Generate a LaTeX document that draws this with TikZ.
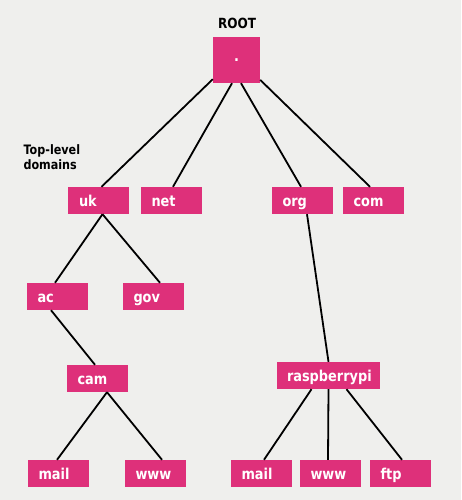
\documentclass[tikz,border=0pt]{standalone}
\usepackage{fontspec}
\setmainfont{DejaVu Sans}[FakeStretch=0.86]
\definecolor{dnspink}{RGB}{222,48,122}
\definecolor{paper}{RGB}{239,239,237}
\begin{document}
\begin{tikzpicture}[x=1pt,y=-1pt,
    dnsbox/.style={fill=dnspink, text=white, font=\bfseries\fontsize{15}{18}\selectfont,
      text width=39pt, inner xsep=11pt, inner ysep=0pt, minimum height=27pt,
      text height=14pt, text depth=3pt, align=left},
    link/.style={line width=1.8pt},
    caption/.style={font=\bfseries\fontsize{13}{15}\selectfont}]
 	%background
	\fill[paper] (0,0) rectangle (461,500);
	\useasboundingbox (0,0) rectangle (461,500);
	%root
	\node[fill=dnspink, text=white, font=\bfseries\fontsize{15}{18}\selectfont,
	  minimum width=47pt, minimum height=46pt, inner sep=0pt] (root) at (236.5,60) {.};
	\node[caption, font=\bfseries\fontsize{14}{16}\selectfont] (rootlabel) at (237,23) {ROOT};
	\node[caption, anchor=west, align=left] (tldlabel) at (20,157) {Top-level\\domains};
	%top-level domains
	\node[dnsbox] (uk) at (98.5,200.5) {uk};
	\node[dnsbox] (net) at (171,200.5) {net};
	\node[dnsbox] (org) at (302,200.5) {org};
	\node[dnsbox] (com) at (373,200.5) {com};
	%second level
	\node[dnsbox] (ac) at (57,296.5) {ac};
	\node[dnsbox] (gov) at (153,296.5) {gov};
	\node[dnsbox] (cam) at (97,378.5) {cam};
	\node[dnsbox, text width=83pt, inner xsep=10pt] (rpi) at (328.5,375.5) {raspberrypi};
	%hosts
	\node[dnsbox] (mailuk) at (58,473.5) {mail};
	\node[dnsbox] (wwwuk) at (155,473.5) {www};
	\node[dnsbox] (mailrpi) at (261,473.5) {mail};
	\node[dnsbox] (wwwrpi) at (330,473.5) {www};
	\node[dnsbox] (ftp) at (400,473.5) {ftp};
	%links
	\draw[link] (root.-141) -- ([xshift=3pt]uk.north);
	\draw[link] (root.-101) -- ([xshift=2pt]net.north);
	\draw[link] (root.-79) -- ([xshift=-1pt]org.north);
	\draw[link] (root.-40) -- ([xshift=-3pt]com.north);
	\draw[link] ([xshift=4pt]uk.south) -- ([xshift=-2pt]ac.north);
	\draw[link] ([xshift=4pt]uk.south) -- ([xshift=7pt]gov.north);
	\draw[link] ([xshift=-6pt]ac.south) -- ([xshift=-2pt]cam.north);
	\draw[link] ([xshift=10pt]cam.south) -- ([xshift=-1pt]mailuk.north);
	\draw[link] ([xshift=10pt]cam.south) -- ([xshift=7pt]wwwuk.north);
	\draw[link] ([xshift=5pt]org.south) -- (rpi.north);
	\draw[link] ([xshift=-17pt]rpi.south) -- ([xshift=3pt]mailrpi.north);
	\draw[link] (rpi.south) -- ([xshift=-2pt]wwwrpi.north);
	\draw[link] ([xshift=18pt]rpi.south) -- ([xshift=2pt]ftp.north);
\end{tikzpicture}
\end{document}
